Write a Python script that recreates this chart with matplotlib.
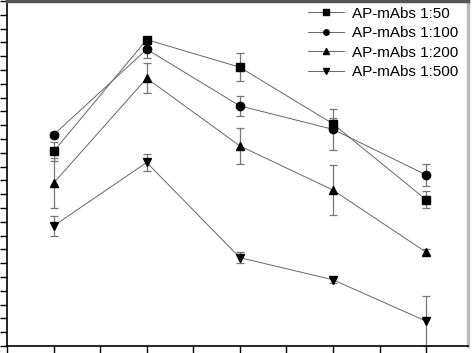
import numpy as np
import matplotlib
matplotlib.use('Agg')
import matplotlib.pyplot as plt
from matplotlib.ticker import MultipleLocator

plt.rcParams['font.family'] = ['Liberation Sans', 'DejaVu Sans']

x = [1, 2, 3, 4, 5]
labels = ['AP-mAbs 1:50', 'AP-mAbs 1:100', 'AP-mAbs 1:200', 'AP-mAbs 1:500']
markers = ['s', 'o', '^', 'v']

y_50 = [1.41, 2.22, 2.02, 1.61, 1.06]
y_100 = [1.53, 2.15, 1.74, 1.57, 1.24]
y_200 = [1.18, 1.94, 1.45, 1.13, 0.68]
y_500 = [0.87, 1.33, 0.64, 0.48, 0.18]

e_50 = [0.07, 0.02, 0.10, 0.04, 0.06]
e_100 = [0.02, 0.06, 0.07, 0.15, 0.08]
e_200 = [0.18, 0.11, 0.13, 0.18, 0.02]
e_500 = [0.07, 0.06, 0.04, 0.02, 0.18]

series = [(y_50, e_50), (y_100, e_100), (y_200, e_200), (y_500, e_500)]

fig = plt.figure(figsize=(4.74, 3.53), dpi=100)
ax = fig.add_axes([7 / 474, 7 / 353, 461 / 474, 345 / 353])

for (ys, es), m, lab in zip(series, markers, labels):
    ax.errorbar(x, ys, yerr=es, fmt='none', ecolor='#777777', elinewidth=0.9,
                capsize=3, capthick=0.9, zorder=2)
    ax.plot(x, ys, color='#666666', lw=0.7, marker=m, markersize=6,
            markerfacecolor='black', markeredgecolor='black', label=lab, zorder=3)

ax.set_xlim(0.5, 5.45)
ax.set_ylim(0, 2.5)
ax.xaxis.set_major_locator(MultipleLocator(1))
ax.xaxis.set_minor_locator(MultipleLocator(0.5))
ax.yaxis.set_major_locator(MultipleLocator(0.1))
ax.tick_params(which='both', direction='out', length=5, width=1, color='black',
               labelbottom=False, labelleft=False, top=False, right=False)

ax.spines['left'].set_linewidth(1.2)
ax.spines['bottom'].set_linewidth(1.2)
ax.spines['top'].set_color('#555555')
ax.spines['top'].set_linewidth(2.5)
ax.spines['right'].set_color('#bbbbbb')
ax.spines['right'].set_linewidth(2.5)

leg = ax.legend(loc='upper right', bbox_to_anchor=(1.0, 1.012), frameon=False,
                fontsize=11, handlelength=2.4, handletextpad=0.5,
                labelspacing=0.36, borderpad=0.15, markerscale=0.65)

fig.savefig('out.png', dpi=100)
plt.close(fig)
